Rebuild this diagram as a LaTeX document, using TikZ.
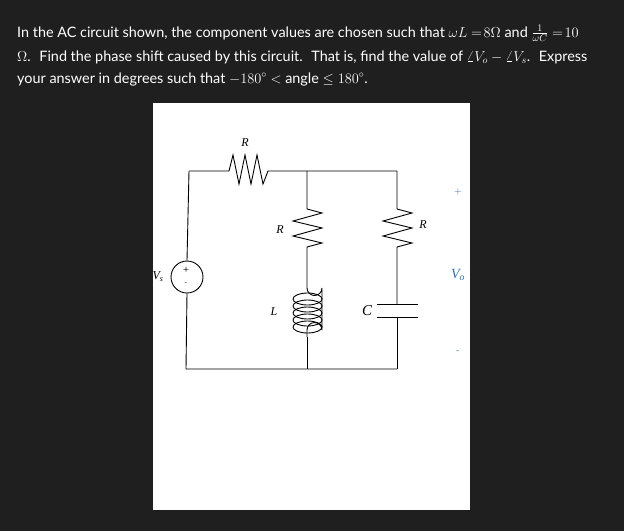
\documentclass[tikz,border=0pt]{standalone}
\usepackage{fontspec}
\setmainfont{Lato}
\newfontfamily\lblfont{Liberation Serif}
\definecolor{vblue}{RGB}{46,116,181}
\begin{document}
\begin{tikzpicture}[x=1pt,y=-1pt,
  wire/.style={line width=0.9pt,black},
  lbl/.style={font=\lblfont\fontsize{12}{12}\selectfont\itshape, inner sep=0pt},
  qtext/.style={anchor=base west, inner sep=0pt, text=white, font=\fontsize{14.4}{14.4}\selectfont},
  vb/.style={text=vblue, inner sep=0pt}]
\fill[black!88!white] (0,0) rectangle (624,531);
\useasboundingbox (0,0) rectangle (624,531);
\fill[white] (153,103) rectangle (470,510);
\node[qtext] (l1) at (17,37) {In the AC circuit shown, the component values are chosen such that $\omega L$ $=\!8\Omega$ and $\frac{1}{\omega C}$ $=\!10$};
\node[qtext] (l2) at (17,61) {$\Omega$. \ Find the phase shift caused by this circuit. \ That is, find the value of $\angle V_o - \angle V_s$. \ Express};
\node[qtext] (l3) at (17,83) {your answer in degrees such that $-180^\circ$ $<$ angle $\le 180^\circ$.};
\coordinate (tl) at (189,171);
\coordinate (bl) at (186,369);
\coordinate (tm) at (307,171);
\coordinate (bm) at (307,369);
\coordinate (tr) at (397,171);
\coordinate (br) at (397,369);
% top resistor
\draw[wire] (tl) -- (229,171) -- (233,155) -- (239,184) -- (245,155) -- (251,184) -- (257,155) -- (263,184) -- (268,171) -- (tm) -- (tr);
% source
\node[draw, circle, line width=0.9pt, minimum size=32pt, inner sep=0pt] (vs) at (187,277) {};
\draw[wire] (tl) -- (vs.north);
\draw[wire] (vs.south) -- (bl) -- (bm) -- (br);
\node[font=\sffamily\bfseries\fontsize{7}{7}\selectfont, inner sep=0pt] (pl) at (186,270) {+};
\node[font=\sffamily\bfseries\fontsize{7}{7}\selectfont, inner sep=0pt] (mi) at (186,284) {-};
% middle branch
\draw[wire] (tm) -- (307,209) -- (322,213) -- (293,221) -- (322,228) -- (293,236) -- (322,243) -- (307,247) -- (307,288);
\draw[wire] (307,288) arc[start angle=180, end angle=0, radius=7.5] -- (322,330) arc[start angle=0, end angle=-180, radius=7.5] -- (307,337);
\foreach \yy in {299,306,313,320,327} \draw[wire] (307.5,\yy) ellipse[x radius=14.5, y radius=6];
\draw[wire] (307,337) -- (bm);
% right branch
\draw[wire] (tr) -- (397,209) -- (412,213) -- (383,221) -- (412,228) -- (383,236) -- (412,243) -- (397,247) -- (397,304);
\draw[wire] (377,304) -- (418,304);
\draw[wire] (377,317) -- (418,317);
\draw[wire] (397,317) -- (br);
% labels
\node[lbl] (lr1) at (245,143) {R};
\node[lbl] (lr2) at (280,230) {R};
\node[lbl] (lr3) at (423,225) {R};
\node[lbl] (ll) at (274,312) {L};
\node[lbl, font=\lblfont\fontsize{15}{15}\selectfont\itshape] (lc) at (367,311) {C};
\node[lbl] (lvs) at (158,277) {V\textsubscript{s}};
\node[vb, font=\sffamily\fontsize{10}{10}\selectfont] (vp) at (458,192) {+};
\node[vb, font=\lblfont\fontsize{14}{14}\selectfont\itshape] (vo) at (458,275) {V\textsubscript{o}};
\node[vb, font=\sffamily\fontsize{10}{10}\selectfont] (vm) at (458,352) {-};
\end{tikzpicture}
\end{document}
